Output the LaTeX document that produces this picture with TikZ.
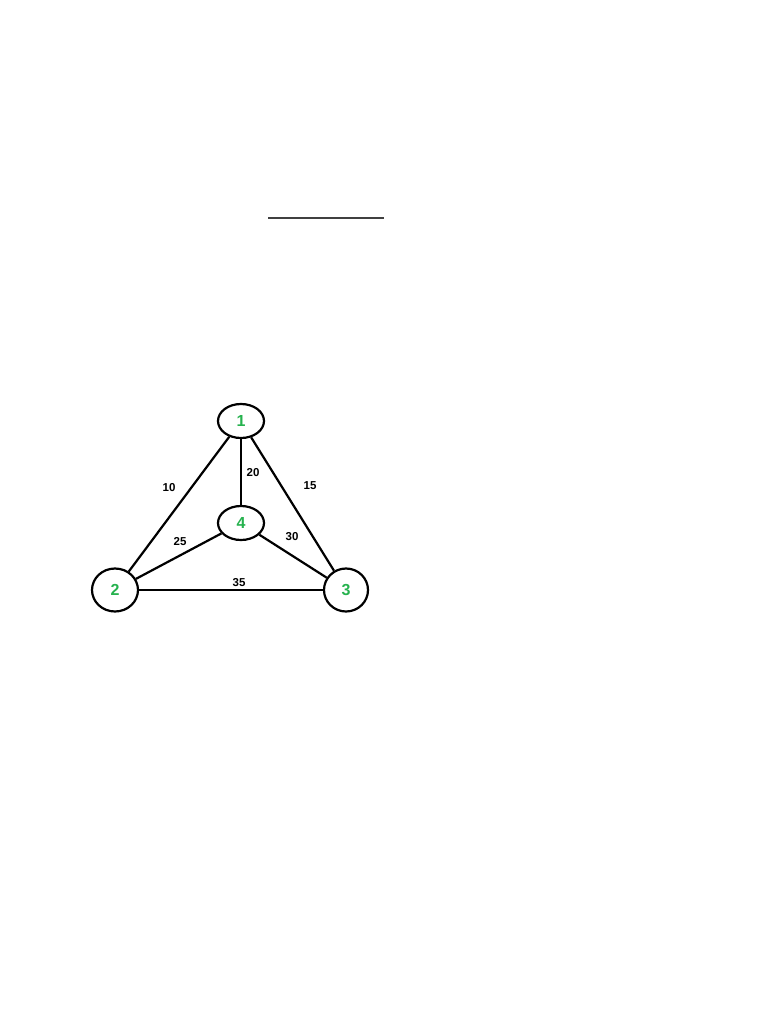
\documentclass[tikz,border=0pt]{standalone}
\usepackage{fontspec}
\setmainfont{Liberation Sans}
\usetikzlibrary{shapes.geometric}

\definecolor{vertexgreen}{RGB}{38,178,78}

\begin{document}
\begin{tikzpicture}[
    x=1pt, y=-1pt,
    line width=2.2pt,
    vertex/.style={
        draw,
        ellipse,
        inner sep=0pt,
        minimum width=46pt,
        minimum height=34pt,
        fill=white,
        text=vertexgreen,
        font=\fontsize{16}{19}\selectfont\bfseries
    },
    weight/.style={
        inner sep=1pt,
        font=\fontsize{11.5}{14}\selectfont\bfseries
    }
]

    % Page
    \useasboundingbox (0,0) rectangle (768,1024);

    % Rule at the top
    \coordinate (ruleA) at (268,218);
    \coordinate (ruleB) at (384,218);
    \draw [line width=1.1pt, black!75] (ruleA) -- (ruleB);

    % Vertices
    \node [vertex] (v1) at (241,421) {1};
    \node [vertex] (v4) at (241,523) {4};
    \node [vertex, minimum width=46pt, minimum height=43pt] (v2) at (115,590) {2};
    \node [vertex, minimum width=44pt, minimum height=43pt] (v3) at (346,590) {3};

    % Edges
    \draw (v1) -- (v2);
    \draw (v1) -- (v4);
    \draw (v1) -- (v3);
    \draw (v4) -- (v2);
    \draw (v4) -- (v3);
    \draw (v2) -- (v3);

    % Weights
    \node [weight] (w12) at (169,488) {10};
    \node [weight] (w14) at (253,473) {20};
    \node [weight] (w13) at (310,486) {15};
    \node [weight] (w42) at (180,542) {25};
    \node [weight] (w43) at (292,537) {30};
    \node [weight] (w23) at (239,583) {35};

\end{tikzpicture}
\end{document}
